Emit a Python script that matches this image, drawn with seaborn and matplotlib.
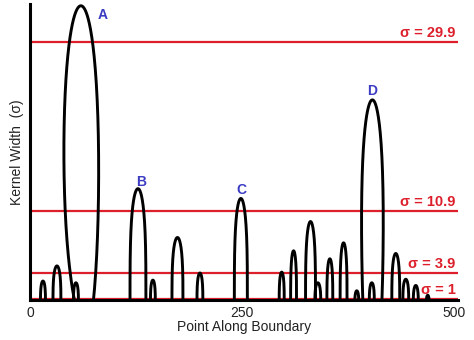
import numpy as np
import pandas as pd
import matplotlib
matplotlib.use("Agg")
import matplotlib.pyplot as plt
import seaborn as sns

# ---- data ----
arch_names = ["a1", "a2", "A", "a3", "B", "a4", "a5", "a6", "C", "a7", "a8", "a9",
              "a10", "a11", "a12", "a13", "D", "a14", "a15", "a16", "a17", "a18"]
arch_center = [15.3, 31.8, 60.0, 54.2, 127.4, 145.0, 174.0, 200.5, 248.8, 297.0, 311.0, 331.0,
               339.6, 353.8, 370.0, 385.6, 404.0, 403.3, 431.6, 443.4, 455.2, 469.3]
arch_halfwidth = [3.0, 4.7, 23.0, 3.0, 9.4, 2.9, 6.5, 3.5, 7.7, 3.0, 3.5, 5.9,
                  3.5, 3.5, 4.1, 2.4, 14.0, 3.0, 4.7, 3.5, 3.0, 1.8]
arch_height = [3.0, 4.7, 34.0, 2.8, 13.4, 3.1, 7.9, 3.9, 12.3, 4.0, 6.4, 9.7,
               2.8, 5.5, 7.3, 1.9, 23.4, 2.8, 6.1, 3.2, 2.5, 1.4]
arch_base_halfwidth = [3.0, 4.7, 10.0, 3.0, 9.4, 2.9, 6.5, 3.5, 7.7, 3.0, 3.5, 5.9,
                       3.5, 3.5, 4.1, 2.4, 11.0, 3.0, 4.7, 3.5, 3.0, 1.8]
arch_base_center = [15.3, 31.8, 64.0, 54.2, 127.4, 145.0, 174.0, 200.5, 248.8, 297.0, 311.0, 331.0,
                    339.6, 353.8, 370.0, 385.6, 404.0, 403.3, 431.6, 443.4, 455.2, 469.3]

arch_labels = ["A", "B", "C", "D"]
arch_label_x = [86.0, 131.5, 249.4, 404.0]
arch_label_sigma = [33.0, 14.2, 13.3, 24.4]

sigma_levels = [29.9, 10.9, 3.9, 1.0]
sigma_level_labels = ["σ = 29.9", "σ = 10.9", "σ = 3.9", "σ = 1"]

x_ticks = [0, 250, 500]

# ---- build contours ----
rows = []
phi = np.linspace(0, np.pi, 400)
for name, c, w, h, wb, cb in zip(arch_names, arch_center, arch_halfwidth, arch_height,
                                 arch_base_halfwidth, arch_base_center):
    p = 3.5
    s = h * np.sin(phi) ** (2.0 / p)
    taper = 1 - np.exp(-s / 8.0)
    ww = wb + (w - wb) * taper
    cc = cb + (c - cb) * taper
    x = cc + ww * np.cos(phi)
    for i, (xi, si) in enumerate(zip(x, s)):
        rows.append((name, i, xi, si))
df = pd.DataFrame(rows, columns=["arch", "order", "x", "sigma"])

sns.set_style("white")
plt.rcParams["font.family"] = ["Liberation Sans", "DejaVu Sans"]

fig = plt.figure(figsize=(4.74, 3.40), dpi=100)
ax = fig.add_axes([30 / 474, 40 / 340, 428 / 474, 296 / 340])

red = "#dd1f2b"
blue = "#3b3bc4"

for lv in sigma_levels:
    ax.axhline(lv, color=red, lw=1.6, zorder=1)

sns.lineplot(data=df, x="x", y="sigma", units="arch", estimator=None, sort=False,
             color="black", lw=2.1, ax=ax, zorder=3)

for t, xv, sv in zip(arch_labels, arch_label_x, arch_label_sigma):
    ax.text(xv, sv, t, color=blue, fontsize=10, fontweight="bold",
            ha="center", va="center")

for lv, lab in zip(sigma_levels, sigma_level_labels):
    ax.text(502, lv + 0.25, lab, color=red, fontsize=10.5, fontweight="bold",
            ha="right", va="bottom")

ax.set_xlim(0, 505)
ax.set_ylim(0.86, 34.2)
ax.set_xticks(x_ticks)
ax.set_xticklabels([str(v) for v in x_ticks])
ax.set_yticks([])
ax.tick_params(axis="x", length=0, pad=4, labelsize=10, labelcolor="#222222")
ax.set_xlabel("Point Along Boundary", fontsize=10, color="#222222", labelpad=0)
ax.set_ylabel("Kernel Width  (σ)", fontsize=10, color="#222222", labelpad=4)
for side in ["top", "right"]:
    ax.spines[side].set_visible(False)
for side in ["left", "bottom"]:
    ax.spines[side].set_color("black")
    ax.spines[side].set_linewidth(2.2)
if ax.legend_:
    ax.legend_.remove()

fig.savefig("out.png", dpi=100)
